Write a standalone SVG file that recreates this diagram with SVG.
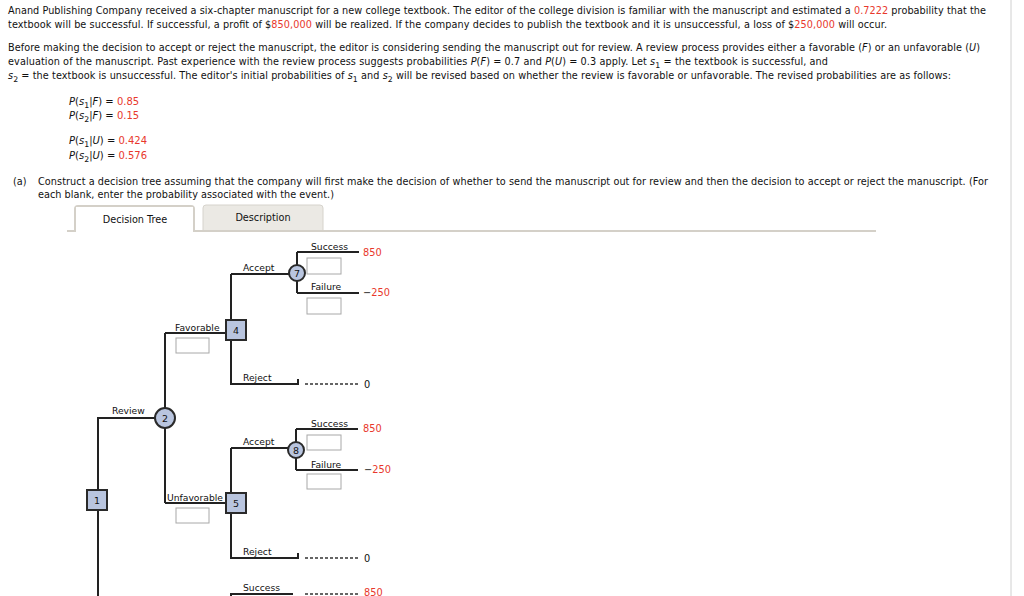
<svg xmlns="http://www.w3.org/2000/svg" width="1024" height="596" viewBox="0 0 1024 596">
<style>
  text { font-family: "DejaVu Sans", Verdana, sans-serif; fill: #111; }
  .t { font-size: 9.7px; }
  .p { font-size: 10px; }
  .i { font-style: italic; }
  .r { fill: #e8382c; }
  .sub { font-size: 7.8px; }
  .lbl { font-size: 9.2px; }
  .val { font-size: 9.8px; }
  .num { font-size: 9.5px; text-anchor: middle; }
  .tab { font-size: 9.7px; text-anchor: middle; }
  .ln { stroke: #222; stroke-width: 2; fill: none; }
  .dash { stroke: #333; stroke-width: 1.5; stroke-dasharray: 3 2; fill: none; }
  .sq { fill: #b9c5df; stroke: #2a2a2a; stroke-width: 2; }
  .box { fill: #fff; stroke: #a8a8a8; stroke-width: 1; }
</style>
<rect width="1024" height="596" fill="#fff"/>
<line x1="1011" y1="0" x2="1011" y2="596" stroke="#d0d0d0" stroke-width="1"/>

<g id="problem-text">
<text class="t" x="8" y="14" textLength="978">Anand Publishing Company received a six-chapter manuscript for a new college textbook. The editor of the college division is familiar with the manuscript and estimated a <tspan class="r">0.7222</tspan> probability that the</text>
<text class="t" x="8" y="28" textLength="879">textbook will be successful. If successful, a profit of $<tspan class="r">850,000</tspan> will be realized. If the company decides to publish the textbook and it is unsuccessful, a loss of $<tspan class="r">250,000</tspan> will occur.</text>
<text class="t" x="8" y="51" textLength="972">Before making the decision to accept or reject the manuscript, the editor is considering sending the manuscript out for review. A review process provides either a favorable (<tspan class="i">F</tspan>) or an unfavorable (<tspan class="i">U</tspan>)</text>
<text class="t" x="8" y="65" textLength="820">evaluation of the manuscript. Past experience with the review process suggests probabilities <tspan class="i">P</tspan>(<tspan class="i">F</tspan>) = 0.7 and <tspan class="i">P</tspan>(<tspan class="i">U</tspan>) = 0.3 apply. Let <tspan class="i">s</tspan><tspan class="sub" dy="3">1</tspan><tspan dy="-3"> = the textbook is successful, and</tspan></text>
<text class="t" x="8" y="79" textLength="943"><tspan class="i">s</tspan><tspan class="sub" dy="3">2</tspan><tspan dy="-3"> = the textbook is unsuccessful. The editor's initial probabilities of </tspan><tspan class="i">s</tspan><tspan class="sub" dy="3">1</tspan><tspan dy="-3"> and </tspan><tspan class="i">s</tspan><tspan class="sub" dy="3">2</tspan><tspan dy="-3"> will be revised based on whether the review is favorable or unfavorable. The revised probabilities are as follows:</tspan></text>

<text class="p" x="69" y="105"><tspan class="i">P</tspan>(<tspan class="i">s</tspan><tspan class="sub" dy="3">1</tspan><tspan dy="-3">|</tspan><tspan class="i">F</tspan>) = <tspan class="r">0.85</tspan></text>
<text class="p" x="69" y="119"><tspan class="i">P</tspan>(<tspan class="i">s</tspan><tspan class="sub" dy="3">2</tspan><tspan dy="-3">|</tspan><tspan class="i">F</tspan>) = <tspan class="r">0.15</tspan></text>
<text class="p" x="69" y="144"><tspan class="i">P</tspan>(<tspan class="i">s</tspan><tspan class="sub" dy="3">1</tspan><tspan dy="-3">|</tspan><tspan class="i">U</tspan>) = <tspan class="r">0.424</tspan></text>
<text class="p" x="69" y="159"><tspan class="i">P</tspan>(<tspan class="i">s</tspan><tspan class="sub" dy="3">2</tspan><tspan dy="-3">|</tspan><tspan class="i">U</tspan>) = <tspan class="r">0.576</tspan></text>

<text class="t" x="13" y="185">(a)</text>
<text class="t" x="38" y="185" textLength="950">Construct a decision tree assuming that the company will first make the decision of whether to send the manuscript out for review and then the decision to accept or reject the manuscript. (For</text>
<text class="t" x="38" y="198" textLength="296">each blank, enter the probability associated with the event.)</text>
</g>

<g id="tabs">
<path d="M203 231 V208 Q203 205 206 205 H320 Q323 205 323 208 V231 Z" fill="#ebe9e4" stroke="#d6d3cc" stroke-width="1"/>
<path d="M67 231 H75 V209 Q75 206 78 206 H191 Q194 206 194 209 V231 H876" fill="none" stroke="#d4d0c8" stroke-width="2"/>
<rect x="76" y="207" width="117" height="25" fill="#fff"/>
<text class="tab" x="135" y="223">Decision Tree</text>
<text class="tab" x="263" y="221">Description</text>
</g>

<g id="connectors">
<path class="ln" d="M98 596 V418 H157"/>
<path class="ln" d="M165 333 V503"/>
<path class="ln" d="M165 333 H228"/>
<path class="ln" d="M165 503 H228"/>
<path class="ln" d="M231 274 V384 H298 V379"/>
<path class="ln" d="M231 274 H290"/>
<path class="ln" d="M297 252 V293"/>
<path class="ln" d="M297 252 H359"/>
<path class="ln" d="M297 293 H359"/>
<path class="ln" d="M231 448 V558 H298 V553"/>
<path class="ln" d="M231 448 H289"/>
<path class="ln" d="M296 429 V470"/>
<path class="ln" d="M296 429 H358"/>
<path class="ln" d="M296 470 H358"/>
<path class="ln" d="M231 596 V594 H293"/>
<path class="dash" d="M305 384 H360"/>
<path class="dash" d="M305 558 H360"/>
<path class="dash" d="M305 594 H360"/>
</g>

<g id="edge-labels">
<text class="lbl" x="112" y="414">Review</text>
<text class="lbl" x="175" y="331">Favorable</text>
<rect class="box" x="176" y="338" width="33" height="15"/>
<text class="lbl" x="167" y="501">Unfavorable</text>
<rect class="box" x="176" y="508" width="33" height="15"/>
<text class="lbl" x="243" y="271">Accept</text>
<text class="lbl" x="243" y="381">Reject</text>
<text class="lbl" x="243" y="445">Accept</text>
<text class="lbl" x="243" y="555">Reject</text>
<text class="lbl" x="243" y="591">Success</text>
<text class="lbl" x="311" y="250">Success</text>
<rect class="box" x="307" y="258" width="34" height="16"/>
<text class="lbl" x="311" y="290">Failure</text>
<rect class="box" x="307" y="298" width="34" height="16"/>
<text class="lbl" x="311" y="427">Success</text>
<rect class="box" x="307" y="435" width="34" height="15"/>
<text class="lbl" x="311" y="468">Failure</text>
<rect class="box" x="307" y="474" width="34" height="15"/>
</g>

<g id="payoffs">
<text class="val r" x="363" y="256">850</text>
<text class="val" x="363" y="296">−<tspan class="r">250</tspan></text>
<text class="val" x="364" y="388">0</text>
<text class="val r" x="363" y="432">850</text>
<text class="val" x="364" y="473">−<tspan class="r">250</tspan></text>
<text class="val" x="364" y="562">0</text>
<text class="val r" x="364" y="596">850</text>
</g>

<g id="node-1"><rect class="sq" x="87" y="490" width="20" height="20"/><text class="num" x="97" y="504">1</text></g>
<g id="node-2"><circle class="sq" cx="165" cy="418" r="10"/><text class="num" x="165" y="422">2</text></g>
<g id="node-4"><rect class="sq" x="226" y="320" width="20" height="20"/><text class="num" x="236" y="334">4</text></g>
<g id="node-5"><rect class="sq" x="226" y="493" width="20" height="20"/><text class="num" x="236" y="507">5</text></g>
<g id="node-7"><circle class="sq" cx="297" cy="273" r="8"/><text class="num" x="297" y="277">7</text></g>
<g id="node-8"><circle class="sq" cx="296" cy="450" r="8"/><text class="num" x="296" y="454">8</text></g>
</svg>
